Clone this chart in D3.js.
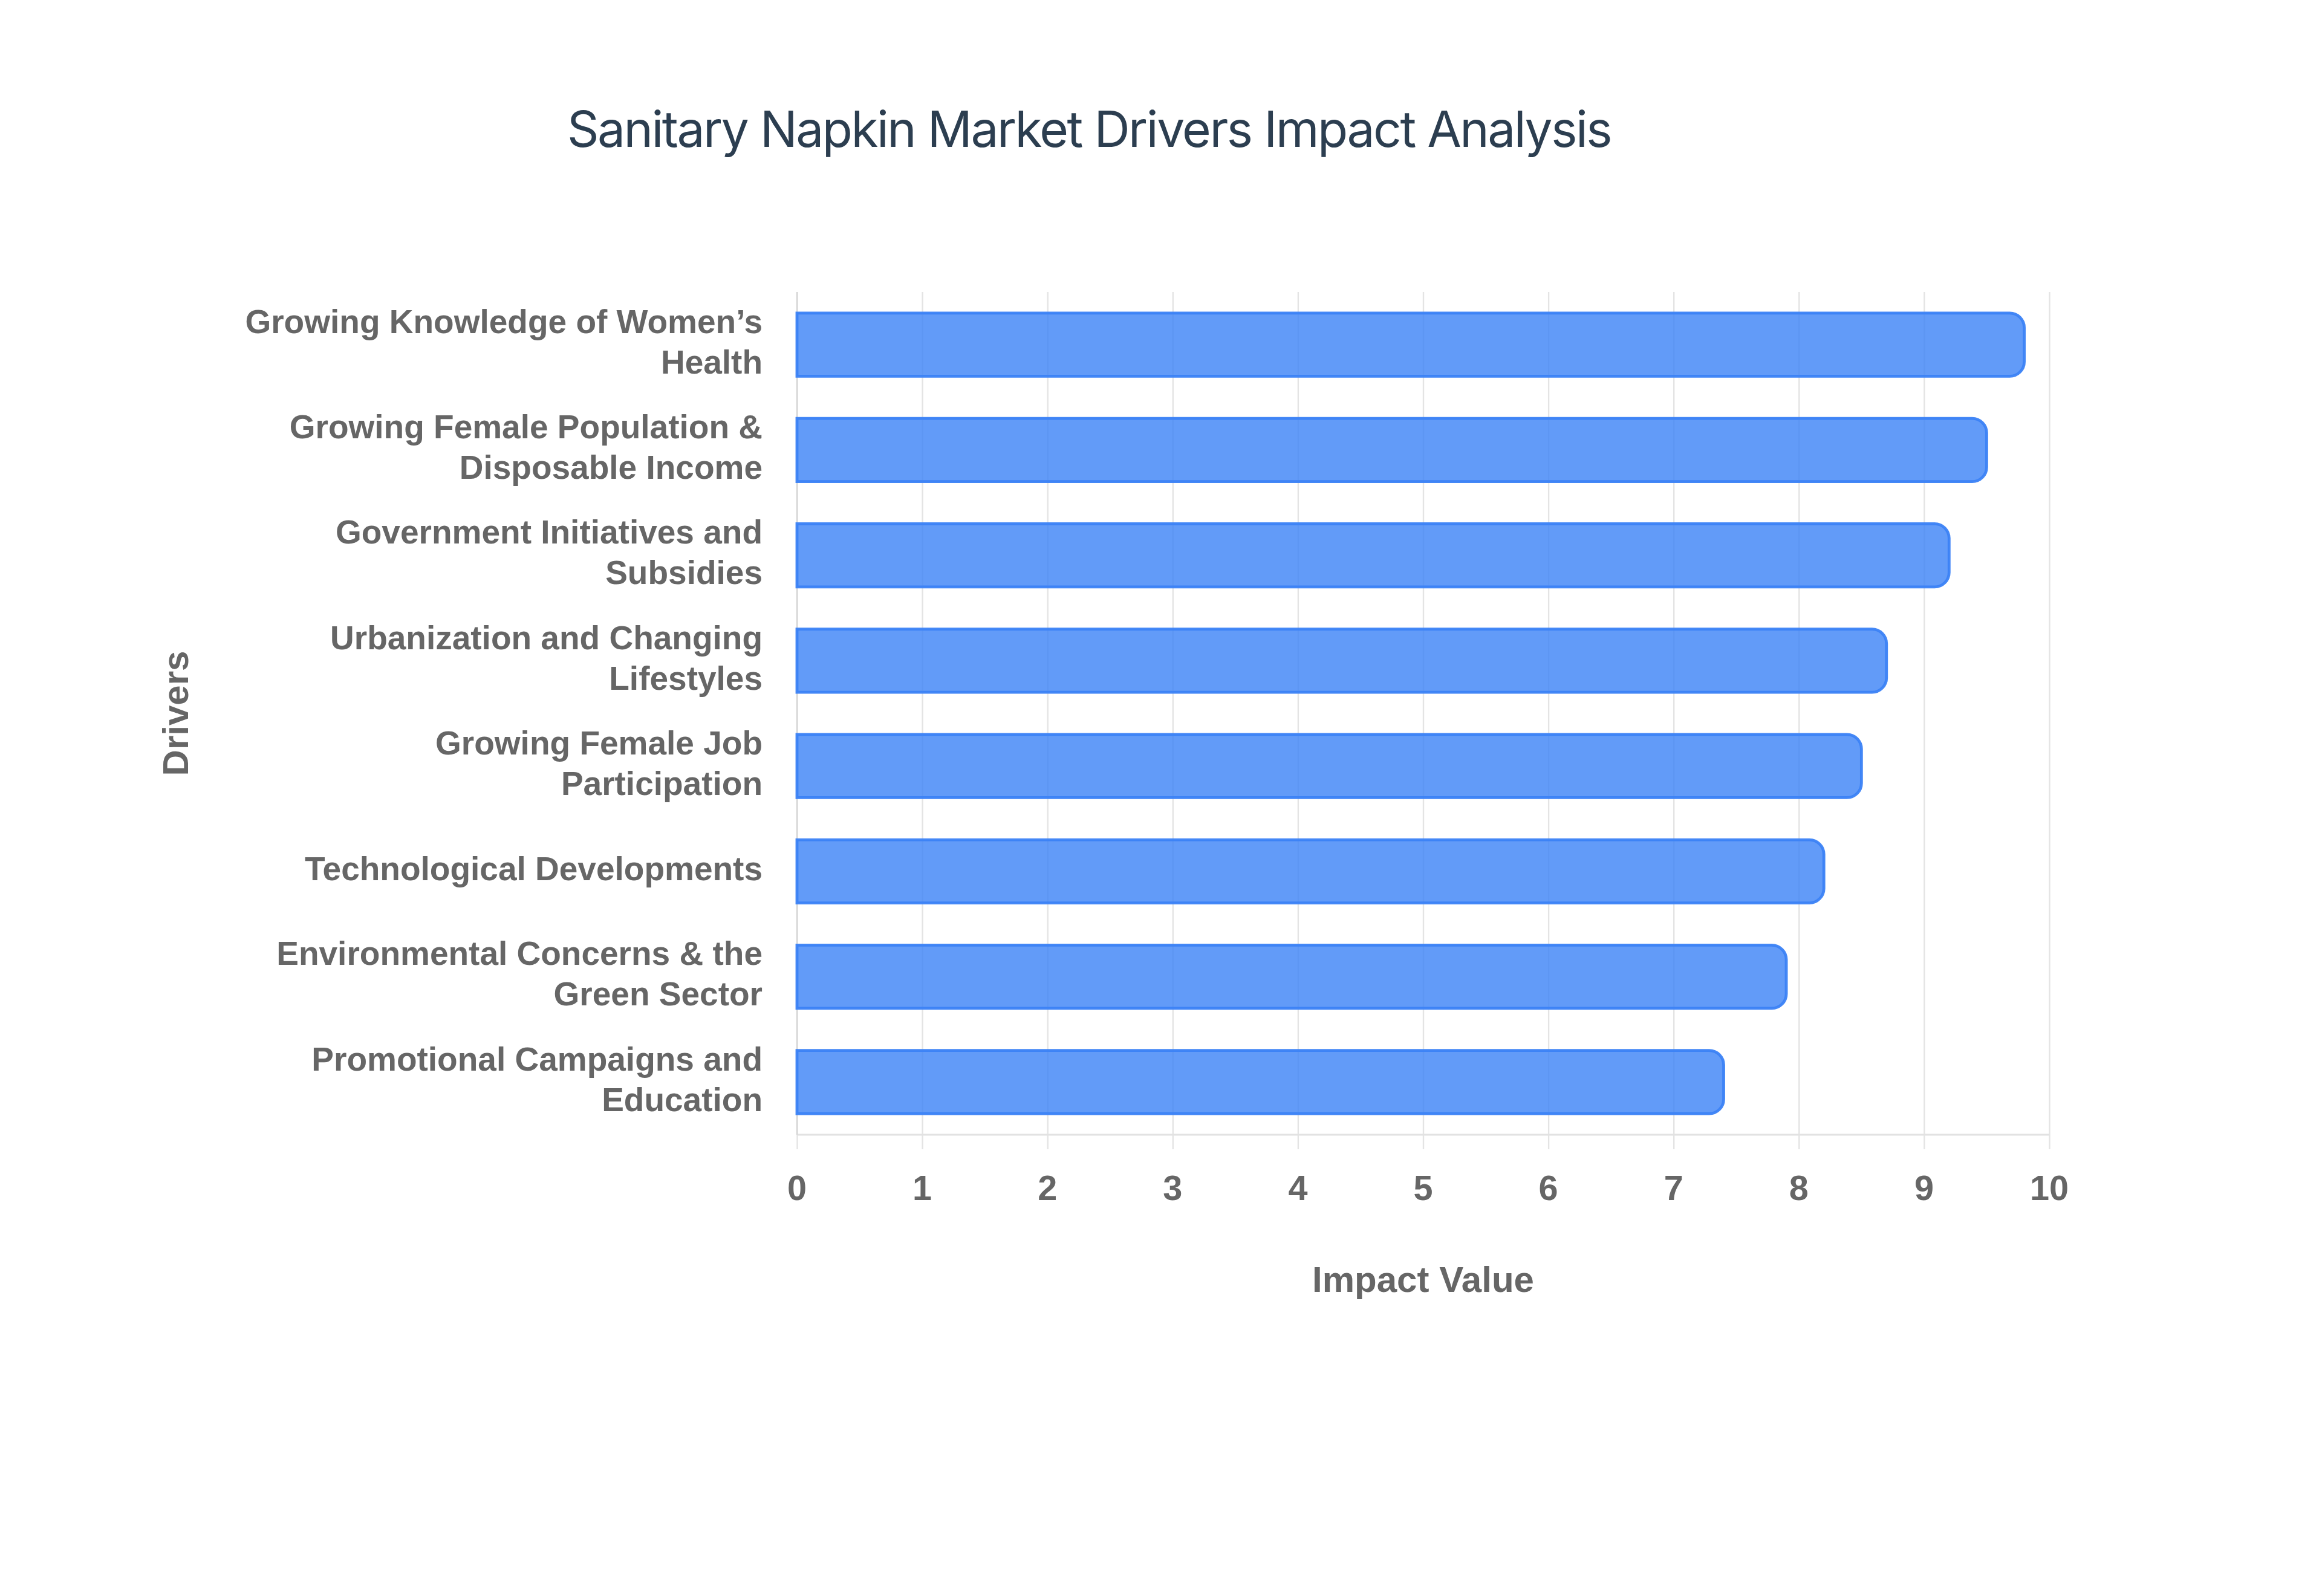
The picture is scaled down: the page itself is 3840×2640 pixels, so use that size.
<!DOCTYPE html>
<html>
<head>
<meta charset="utf-8">
<script src="https://cdn.jsdelivr.net/npm/d3@7"></script>
<style>
  html, body { margin: 0; padding: 0; background: #ffffff; }
  svg { display: block; }
</style>
</head>
<body>
<script>
// ---- data ----
const chartTitle = "Sanitary Napkin Market Drivers Impact Analysis";
const xAxisTitle = "Impact Value";
const yAxisTitle = "Drivers";
const categories = [
  "Growing Knowledge of Women’s Health",
  "Growing Female Population & Disposable Income",
  "Government Initiatives and Subsidies",
  "Urbanization and Changing Lifestyles",
  "Growing Female Job Participation",
  "Technological Developments",
  "Environmental Concerns & the Green Sector",
  "Promotional Campaigns and Education"
];
const categoryLines = [
  ["Growing Knowledge of Women’s", "Health"],
  ["Growing Female Population &", "Disposable Income"],
  ["Government Initiatives and", "Subsidies"],
  ["Urbanization and Changing", "Lifestyles"],
  ["Growing Female Job", "Participation"],
  ["Technological Developments"],
  ["Environmental Concerns & the", "Green Sector"],
  ["Promotional Campaigns and", "Education"]
];
const values = [9.8, 9.5, 9.2, 8.7, 8.5, 8.2, 7.9, 7.4];
const xTickValues = [0, 1, 2, 3, 4, 5, 6, 7, 8, 9, 10];

// ---- layout ----
const W = 3840, H = 2640;
const plot = { left: 1318, right: 3389, top: 483, bottom: 1877 };
const tickLen = 24;

const svg = d3.select("body").append("svg")
  .attr("width", W).attr("height", H)
  .attr("viewBox", `0 0 ${W} ${H}`);
svg.append("rect").attr("width", W).attr("height", H).attr("fill", "#ffffff");

const x = d3.scaleLinear().domain([0, 10]).range([plot.left, plot.right]);
const y = d3.scaleBand().domain(categories).range([plot.top, plot.bottom])
  .paddingInner(0.4).paddingOuter(0.2);

// gridlines + outside ticks
const xAxis = d3.axisBottom(x).tickValues(xTickValues)
  .tickSize(-(plot.bottom - plot.top) - tickLen).tickPadding(0).tickFormat("");
svg.append("g")
  .attr("transform", `translate(0,${plot.bottom + tickLen})`)
  .call(xAxis)
  .call(g => g.select(".domain").remove())
  .call(g => g.selectAll(".tick line").attr("stroke", "#e4e4e4").attr("stroke-width", 2.4));

// bottom axis line
svg.append("line")
  .attr("x1", plot.left).attr("x2", plot.right)
  .attr("y1", plot.bottom).attr("y2", plot.bottom)
  .attr("stroke", "#e2e2e2").attr("stroke-width", 3);

// left axis line
svg.append("line")
  .attr("x1", plot.left).attr("x2", plot.left)
  .attr("y1", plot.top).attr("y2", plot.bottom)
  .attr("stroke", "#d6d6d6").attr("stroke-width", 2.4);

// bars with rounded end
function barPath(x0, x1, y0, h, r) {
  const w = x1 - x0;
  r = Math.min(r, w / 2, h / 2);
  const y1 = y0 + h;
  return `M${x0},${y0}H${x1 - r}A${r},${r} 0 0 1 ${x1},${y0 + r}` +
         `V${y1 - r}A${r},${r} 0 0 1 ${x1 - r},${y1}H${x0}Z`;
}
svg.append("g").selectAll("path")
  .data(categories)
  .join("path")
  .attr("d", (c, i) => barPath(x(0), x(values[i]), y(c), y.bandwidth(), 24))
  .attr("fill", "#3b82f6").attr("fill-opacity", 0.8)
  .attr("stroke", "#3b82f6").attr("stroke-width", 4.8).attr("stroke-opacity", 0.95);

// x tick labels
svg.append("g").selectAll("text")
  .data(xTickValues)
  .join("text")
  .attr("x", d => x(d))
  .attr("y", 1985)
  .attr("text-anchor", "middle")
  .attr("font-family", "'Liberation Sans', Arial, sans-serif")
  .attr("font-weight", "bold")
  .attr("font-size", 57.6)
  .attr("fill", "#666666")
  .text(d => d);

// y category labels
const yfs = 55, ylh = 67;
const yLab = svg.append("g").selectAll("text")
  .data(categories)
  .join("text")
  .attr("text-anchor", "end")
  .attr("font-family", "'Liberation Sans', Arial, sans-serif")
  .attr("font-weight", "bold")
  .attr("font-size", yfs)
  .attr("fill", "#666666");
yLab.each(function(c, i) {
  const lines = categoryLines[i];
  const cy = y(c) + y.bandwidth() / 2;
  const first = cy - (lines.length - 1) * ylh / 2 + 0.35 * yfs - 5;
  d3.select(this).selectAll("tspan")
    .data(lines)
    .join("tspan")
    .attr("x", 1261)
    .attr("y", (l, k) => first + k * ylh)
    .text(l => l);
});

// axis titles
svg.append("text")
  .attr("x", (plot.left + plot.right) / 2)
  .attr("y", 2137)
  .attr("text-anchor", "middle")
  .attr("font-family", "'Liberation Sans', Arial, sans-serif")
  .attr("font-weight", "bold")
  .attr("font-size", 60)
  .attr("fill", "#666666")
  .text(xAxisTitle);

svg.append("text")
  .attr("transform", `translate(311,${(plot.top + plot.bottom) / 2}) rotate(-90)`)
  .attr("text-anchor", "middle")
  .attr("font-family", "'Liberation Sans', Arial, sans-serif")
  .attr("font-weight", "bold")
  .attr("font-size", 60)
  .attr("fill", "#666666")
  .text(yAxisTitle);

// chart title
svg.append("text")
  .attr("x", 1801)
  .attr("y", 243)
  .attr("text-anchor", "middle")
  .attr("font-family", "Inter, 'Noto Sans', sans-serif")
  .attr("font-size", 82)
  .attr("letter-spacing", -2.5)
  .attr("fill", "#2c3e50")
  .text(chartTitle);
</script>
</body>
</html>
